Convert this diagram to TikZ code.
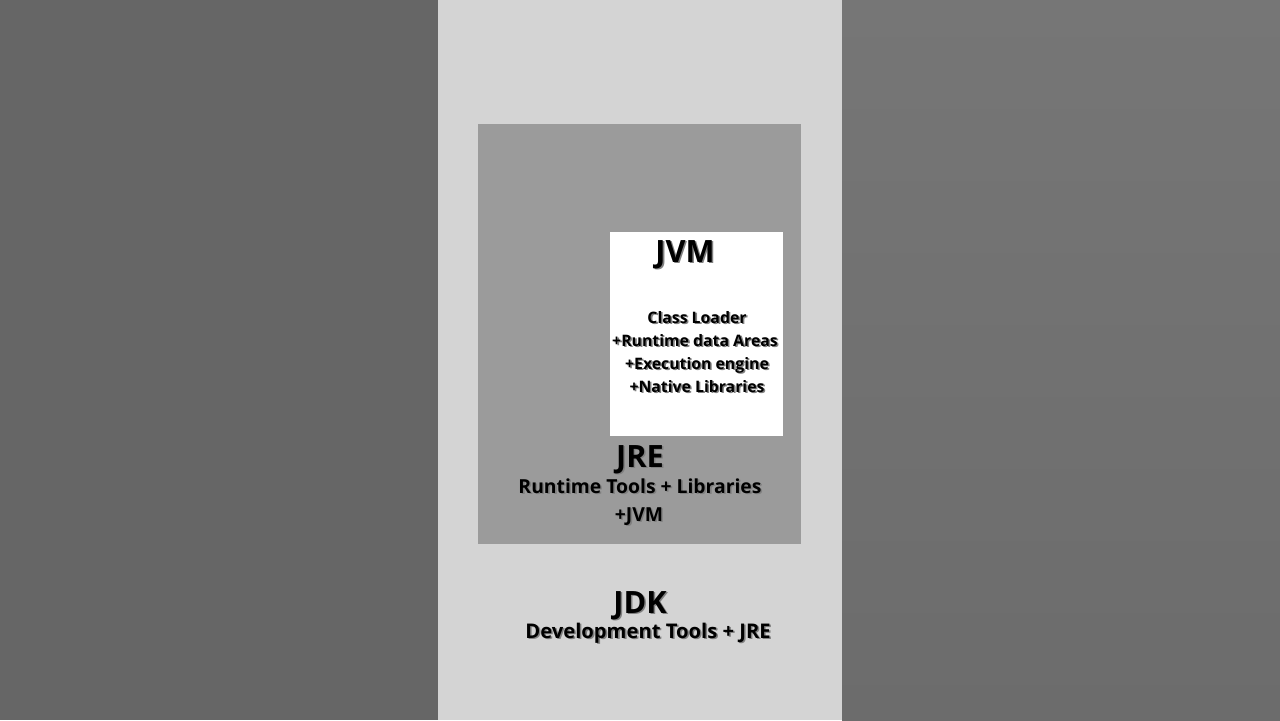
\documentclass[tikz,border=0pt]{standalone}
\usepackage{fontspec}
\setmainfont{Open Sans}
\usetikzlibrary{positioning}
\definecolor{sideL}{HTML}{666666}
\definecolor{sideRt}{HTML}{767676}
\definecolor{sideRb}{HTML}{6C6C6C}
\definecolor{panel}{HTML}{D4D4D4}
\definecolor{jrebox}{HTML}{9B9B9B}
\newcommand{\shd}[1]{\leavevmode\rlap{\hspace{0.9pt}\raisebox{-0.9pt}{\color{black!50}#1}}#1}

\begin{document}
\begin{tikzpicture}[x=0.02cm, y=-0.02cm, every node/.style={inner sep=0pt, anchor=base, font=\bfseries},
	big/.style={font=\fontsize{17.5}{20}\selectfont\bfseries},
	mid/.style={font=\fontsize{11}{16}\selectfont\bfseries},
	small/.style={font=\fontsize{9}{13}\selectfont\bfseries}]
	\useasboundingbox (0,0) rectangle (1280,720);
	\fill[sideL] (0,0) rectangle (438,720);
	\shade[top color=sideRt, bottom color=sideRb] (842,0) rectangle (1280,720);
	\fill[panel] (438,0) rectangle (842,720);
	\fill[jrebox] (478,124) rectangle (801,544);
	\fill[white] (610,232) rectangle (783,436);
	% JVM box
	\node[big] (jvm) at (685,262) {\shd{JVM}};
	\node[small] (cl) at (697,323) {\shd{Class Loader}};
	\node[small] (rda) at (695,346) {\shd{+Runtime data Areas}};
	\node[small] (ee) at (697,369) {\shd{+Execution engine}};
	\node[small] (nl) at (697,392) {\shd{+Native Libraries}};
	% JRE
	\node[big] (jre) at (640,467) {\shd{JRE}};
	\node[mid] (rtl) at (640,493) {\shd{Runtime Tools + Libraries}};
	\node[mid] (pjvm) at (639,521) {\shd{+JVM}};
	% JDK
	\node[big] (jdk) at (640,613) {\shd{JDK}};
	\node[mid, font=\fontsize{11.5}{16}\selectfont\bfseries] (dev) at (648,638) {\shd{Development Tools + JRE}};
\end{tikzpicture}
\end{document}
